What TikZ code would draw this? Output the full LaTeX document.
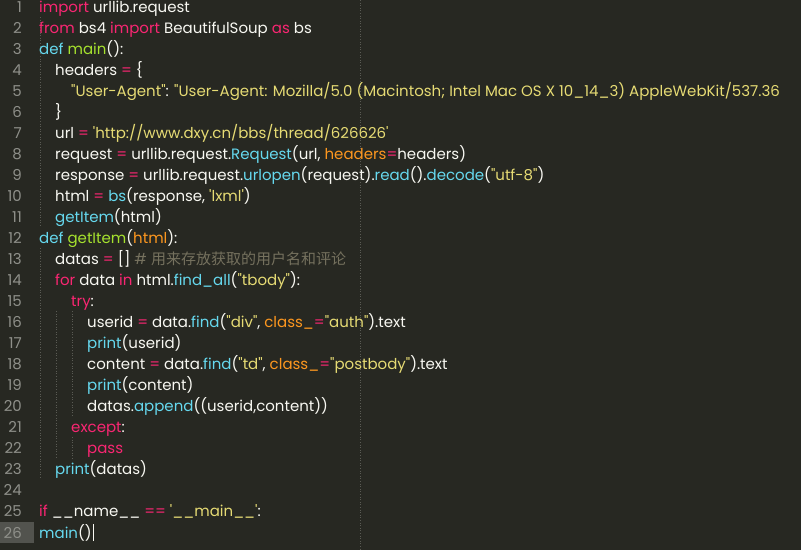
\documentclass[tikz,border=0pt]{standalone}
\usepackage{fontspec}
\newfontfamily\code{Poppins}
\newfontfamily\cjk{Noto Sans CJK SC}
\definecolor{bg}{HTML}{272822}
\definecolor{fg}{HTML}{F8F8F2}
\definecolor{kw}{HTML}{F92672}
\definecolor{fn}{HTML}{66D9EF}
\definecolor{gr}{HTML}{A6E22E}
\definecolor{st}{HTML}{E6DB74}
\definecolor{ar}{HTML}{FD971F}
\definecolor{cm}{HTML}{75715E}
\definecolor{ln}{HTML}{8F908A}
\definecolor{guide}{HTML}{5A5B54}
\newcommand\K[1]{\textcolor{kw}{#1}}
\newcommand\Fn[1]{\textcolor{fn}{#1}}
\newcommand\G[1]{\textcolor{gr}{#1}}
\newcommand\Sx[1]{\textcolor{st}{#1}}
\newcommand\A[1]{\textcolor{ar}{#1}}
\begin{document}
\begin{tikzpicture}[x=1pt,y=-1pt,
  codeline/.style={anchor=base west,inner sep=0pt,text=fg,font=\code\fontsize{15}{15}\selectfont},
  lnum/.style={anchor=base east,inner sep=0pt,text=ln,font=\code\fontsize{15}{15}\selectfont},
  guideline/.style={draw=guide,dotted,line width=0.6pt}]
\fill[bg] (0,0) rectangle (801,550);
\useasboundingbox (0,0) rectangle (801,550);
\fill[fill=white!20!bg] (0,522) rectangle (34,543);
\draw[guideline] (360,0) -- (360,550);
\draw[guideline] (40,17) -- (40,227);
\draw[guideline] (40,248) -- (40,479);
\draw[guideline] (56,311) -- (56,458);
\draw[guideline] (72,311) -- (72,416);
\draw[guideline] (72,437) -- (72,458);
\foreach \n in {1,...,26}{
  \node[lnum] (n\n) at (22,{12+21.04*(\n-1)}) {\n};
}
\def\L#1#2#3{\node[codeline] (l#1) at ({39+16*#2},{12+21.04*(#1-1)}) {#3};}
\L{1}{0}{\K{import} urllib.request}
\L{2}{0}{\K{from} bs4 \K{import} BeautifulSoup \K{as} bs}
\L{3}{0}{\Fn{def} \G{main}():}
\L{4}{1}{headers \K{=} \{}
\L{5}{2}{\Sx{"User-Agent"}: \Sx{"User-Agent: Mozilla/5.0 (Macintosh; Intel Mac OS X 10\_14\_3) AppleWebKit/537.36}}
\L{6}{1}{\}}
\L{7}{1}{url \K{=} \Sx{'http://www.dxy.cn/bbs/thread/626626'}}
\L{8}{1}{request \K{=} urllib.request.\Fn{Request}(url, \A{headers}\K{=}headers)}
\L{9}{1}{response \K{=} urllib.request.\Fn{urlopen}(request).\Fn{read}().\Fn{decode}(\Sx{"utf-8"})}
\L{10}{1}{html \K{=} \Fn{bs}(response, \Sx{'lxml'})}
\L{11}{1}{\Fn{getItem}(html)}
\L{12}{0}{\Fn{def} \G{getItem}(\A{html}):}
\L{13}{1}{datas \K{=} [] \textcolor{cm}{\# {\cjk 用来存放获取的用户名和评论}}}
\L{14}{1}{\K{for} data \K{in} html.\Fn{find\_all}(\Sx{"tbody"}):}
\L{15}{2}{\K{try}:}
\L{16}{3}{userid \K{=} data.\Fn{find}(\Sx{"div"}, \A{class\_}\K{=}\Sx{"auth"}).text}
\L{17}{3}{\Fn{print}(userid)}
\L{18}{3}{content \K{=} data.\Fn{find}(\Sx{"td"}, \A{class\_}\K{=}\Sx{"postbody"}).text}
\L{19}{3}{\Fn{print}(content)}
\L{20}{3}{datas.\Fn{append}((userid,content))}
\L{21}{2}{\K{except}:}
\L{22}{3}{\K{pass}}
\L{23}{1}{\Fn{print}(datas)}
\L{25}{0}{\K{if} \_\_name\_\_ \K{==} \Sx{'\_\_main\_\_'}:}
\L{26}{0}{\Fn{main}()}
\draw[fg,line width=0.8pt] (l26.base east) ++(1,3) -- ++(0,-17);
\end{tikzpicture}
\end{document}
